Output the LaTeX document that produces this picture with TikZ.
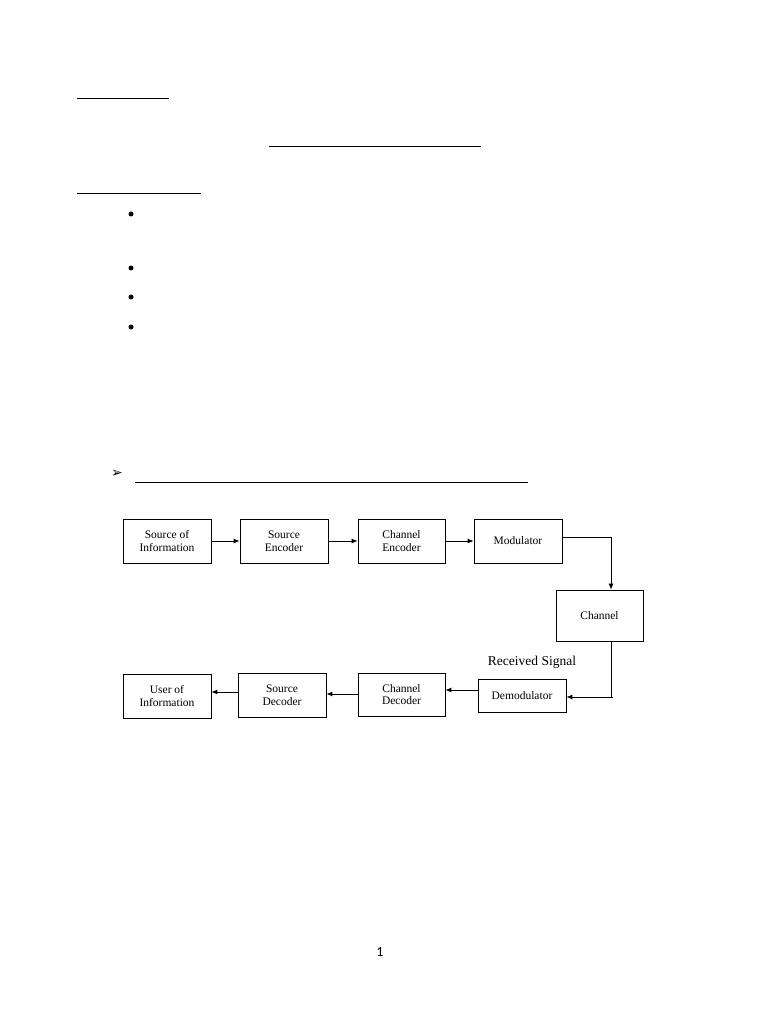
\documentclass[tikz,border=0pt]{standalone}
\usepackage{fontspec}
\setmainfont{Liberation Serif}
\newfontfamily\calib{Carlito}
\newfontfamily\djv{DejaVu Sans}
\usetikzlibrary{arrows.meta}
\begin{document}
\begin{tikzpicture}[x=1pt,y=-1pt,
  blk/.style={draw,line width=0.7pt,inner sep=0pt,align=center,font=\fontsize{11.5}{12.5}\selectfont},
  conn/.style={line width=0.9pt,-{Latex[length=6pt,width=5pt]}},
  uline/.style={line width=0.9pt}]
\useasboundingbox[fill=white] (0,0) rectangle (768,1024);
% headings underlines
\draw[uline] (77,98) -- (169,98);
\draw[uline] (269,146) -- (481,146);
\draw[uline] (77,193) -- (201,193);
\foreach \y [count=\i] in {214,268,297,327} \fill (131,\y) circle (2.5pt);
\node[font=\djv\fontsize{14}{14}\selectfont] (arr) at (117,474) {➢};
\draw[uline] (135,482) -- (528,482);
% blocks
\node[blk,minimum width=88pt,minimum height=44pt] (soi) at (167,541) {Source of\\Information};
\node[blk,minimum width=88pt,minimum height=44pt] (se) at (284,541) {Source\\Encoder};
\node[blk,minimum width=87pt,minimum height=44pt] (ce) at (401.5,541) {Channel\\Encoder};
\node[blk,minimum width=88pt,minimum height=44pt] (mod) at (518,541) {Modulator};
\node[blk,minimum width=87pt,minimum height=51pt] (ch) at (599.5,615.5) {Channel};
\node[blk,minimum width=88pt,minimum height=33pt] (dem) at (522,695.5) {Demodulator};
\node[blk,minimum width=87pt,minimum height=43pt] (cd) at (401.5,694.5) {Channel\\Decoder};
\node[blk,minimum width=88pt,minimum height=44pt] (sd) at (282,695) {Source\\Decoder};
\node[blk,minimum width=88pt,minimum height=44pt] (uoi) at (167,696) {User of\\Information};
\node[font=\fontsize{13.5}{13.5}\selectfont] (rs) at (532,662) {Received Signal};
% connectors
\draw[conn] (soi.east) -- (se.west);
\draw[conn] (se.east) -- (ce.west);
\draw[conn] (ce.east) -- (mod.west);
\coordinate (c1) at (611,537);
\coordinate (c2) at (611,697);
\coordinate (c3) at (613,697);
\draw[conn] (mod.east |- c1) -- (c1) -- (c1 |- ch.north);
\draw[line width=0.9pt] (c1 |- ch.south) -- (c2);
\draw[conn] (c3) -- (dem.east |- c3);
\draw[conn] (dem.west |- 0,690) -- (cd.east |- 0,690);
\draw[conn] (cd.west |- 0,694) -- (sd.east |- 0,694);
\draw[conn] (sd.west |- 0,692) -- (uoi.east |- 0,692);
\node[font=\calib\fontsize{14}{14}\selectfont] (pg) at (380,952) {1};
\end{tikzpicture}
\end{document}
